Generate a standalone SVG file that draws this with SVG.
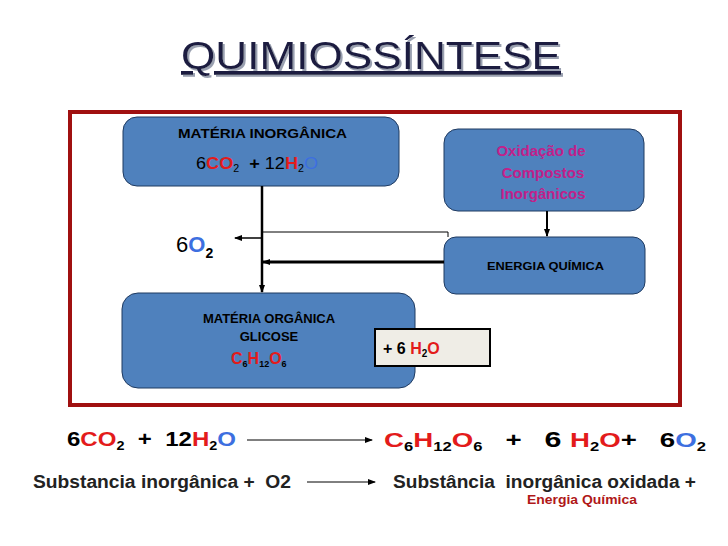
<svg xmlns="http://www.w3.org/2000/svg" width="728" height="546" viewBox="0 0 728 546">
<defs>
<marker id="ah" markerWidth="8" markerHeight="8" refX="7" refY="4" orient="auto" markerUnits="userSpaceOnUse"><path d="M0,1 L8,4 L0,7 z" fill="#000"/></marker>
<filter id="sh" x="-5%" y="-20%" width="110%" height="140%"><feDropShadow dx="2" dy="2" stdDeviation="0.5" flood-color="#9aa0b0"/></filter>
<style>
text{font-family:"Liberation Sans",Arial,sans-serif;white-space:pre}
.bd{font-weight:bold}
.box{fill:#4f81bd;stroke:#1f3a60;stroke-width:1}
.r{fill:#e31b1b}.b{fill:#3d6fe0}.m{fill:#c2208a}
</style>
</defs>
<rect width="728" height="546" fill="#fff"/>
<g id="title">
<text x="181" y="69" font-size="38" fill="#1a1a40" text-decoration="underline" filter="url(#sh)" textLength="380" lengthAdjust="spacingAndGlyphs">QUIMIOSSÍNTESE</text>
</g>
<rect x="70" y="112" width="610" height="293" fill="none" stroke="#a01010" stroke-width="4"/>
<g id="inorg">
<rect class="box" x="123" y="117" width="276" height="69" rx="14"/>
<text x="178" y="138" font-size="13" class="bd" textLength="169" lengthAdjust="spacingAndGlyphs">MATÉRIA INORGÂNICA</text>
<text x="196" y="169" font-size="17" textLength="122" lengthAdjust="spacingAndGlyphs">6<tspan class="r bd">CO</tspan><tspan font-size="10" dy="3">2</tspan><tspan dy="-3" class="bd">  + </tspan>12<tspan class="r bd">H</tspan><tspan font-size="10" dy="3">2</tspan><tspan dy="-3" class="b">O</tspan></text>
</g>
<g id="oxid">
<rect class="box" x="444" y="129" width="200" height="82" rx="14"/>
<text x="541" y="156" font-size="15" text-anchor="middle" class="m bd">Oxidação de</text>
<text x="543" y="178" font-size="15" text-anchor="middle" class="m bd">Compostos</text>
<text x="543" y="199" font-size="15" text-anchor="middle" class="m bd">Inorgânicos</text>
</g>
<g id="energia">
<rect class="box" x="444" y="237" width="201" height="57" rx="12"/>
<text x="487" y="270" font-size="11.5" class="bd" textLength="117" lengthAdjust="spacingAndGlyphs">ENERGIA QUÍMICA</text>
</g>
<g id="org">
<rect class="box" x="122" y="293" width="293" height="95" rx="16"/>
<text x="269" y="323" font-size="13" text-anchor="middle" class="bd">MATÉRIA ORGÂNICA</text>
<text x="269" y="341" font-size="13" text-anchor="middle" class="bd">GLICOSE</text>
<text x="231" y="364" font-size="16" class="bd"><tspan class="r">C</tspan><tspan font-size="9" dy="3">6</tspan><tspan class="r" dy="-3">H</tspan><tspan font-size="9" dy="3">12</tspan><tspan class="r" dy="-3">O</tspan><tspan font-size="9" dy="3">6</tspan></text>
</g>
<g id="h2o">
<rect x="375" y="329" width="115" height="37" fill="#efede6" stroke="#000" stroke-width="2"/>
<text x="383" y="354" font-size="16" class="bd">+ 6 <tspan class="r">H</tspan><tspan font-size="10" dy="3">2</tspan><tspan class="r" dy="-3">O</tspan></text>
</g>
<g id="o2"><text x="176" y="252" font-size="22">6<tspan class="b bd">O</tspan><tspan font-size="14" dy="6" class="bd">2</tspan></text></g>
<g id="connectors" stroke="#000" fill="none">
<line x1="262" y1="186" x2="262" y2="292" stroke-width="2.5" marker-end="url(#ah)"/>
<polyline points="262,232 448,232 448,237" stroke-width="1"/>
<line x1="262" y1="238" x2="235" y2="238" stroke-width="1.5" marker-end="url(#ah)"/>
<line x1="444" y1="262" x2="263" y2="262" stroke-width="3" marker-end="url(#ah)"/>
<line x1="547" y1="211" x2="547" y2="236" stroke-width="2" marker-end="url(#ah)"/>
<line x1="247" y1="440" x2="372" y2="440" stroke-width="1" marker-end="url(#ah)"/>
<line x1="307" y1="482" x2="375" y2="482" stroke-width="1" marker-end="url(#ah)"/>
</g>
<g id="eq">
<text x="67" y="446" font-size="20" class="bd" textLength="169" lengthAdjust="spacingAndGlyphs">6<tspan class="r">CO</tspan><tspan font-size="12" dy="4">2</tspan><tspan dy="-4">  +  12</tspan><tspan class="r">H</tspan><tspan font-size="12" dy="4">2</tspan><tspan class="b" dy="-4">O</tspan></text>
<text x="384" y="447" font-size="20" class="bd" textLength="322" lengthAdjust="spacingAndGlyphs"><tspan class="r">C</tspan><tspan font-size="12" dy="4">6</tspan><tspan class="r" dy="-4">H</tspan><tspan font-size="12" dy="4">12</tspan><tspan class="r" dy="-4">O</tspan><tspan font-size="12" dy="4">6</tspan><tspan dy="-4">   +   </tspan><tspan font-size="22">6 </tspan><tspan class="r">H</tspan><tspan font-size="12" dy="4">2</tspan><tspan class="r" dy="-4">O</tspan><tspan>+   6</tspan><tspan class="b">O</tspan><tspan font-size="12" dy="4">2</tspan></text>
<text x="33" y="488" font-size="18" fill="#222" class="bd" textLength="258" lengthAdjust="spacingAndGlyphs">Substancia inorgânica +  O2</text>
<text x="393" y="488" font-size="18" fill="#222" class="bd" textLength="303" lengthAdjust="spacingAndGlyphs">Substância  inorgânica oxidada +</text>
<text x="527" y="504" font-size="12" fill="#b01818" class="bd" textLength="110" lengthAdjust="spacingAndGlyphs">Energia Química</text>
</g>
</svg>
